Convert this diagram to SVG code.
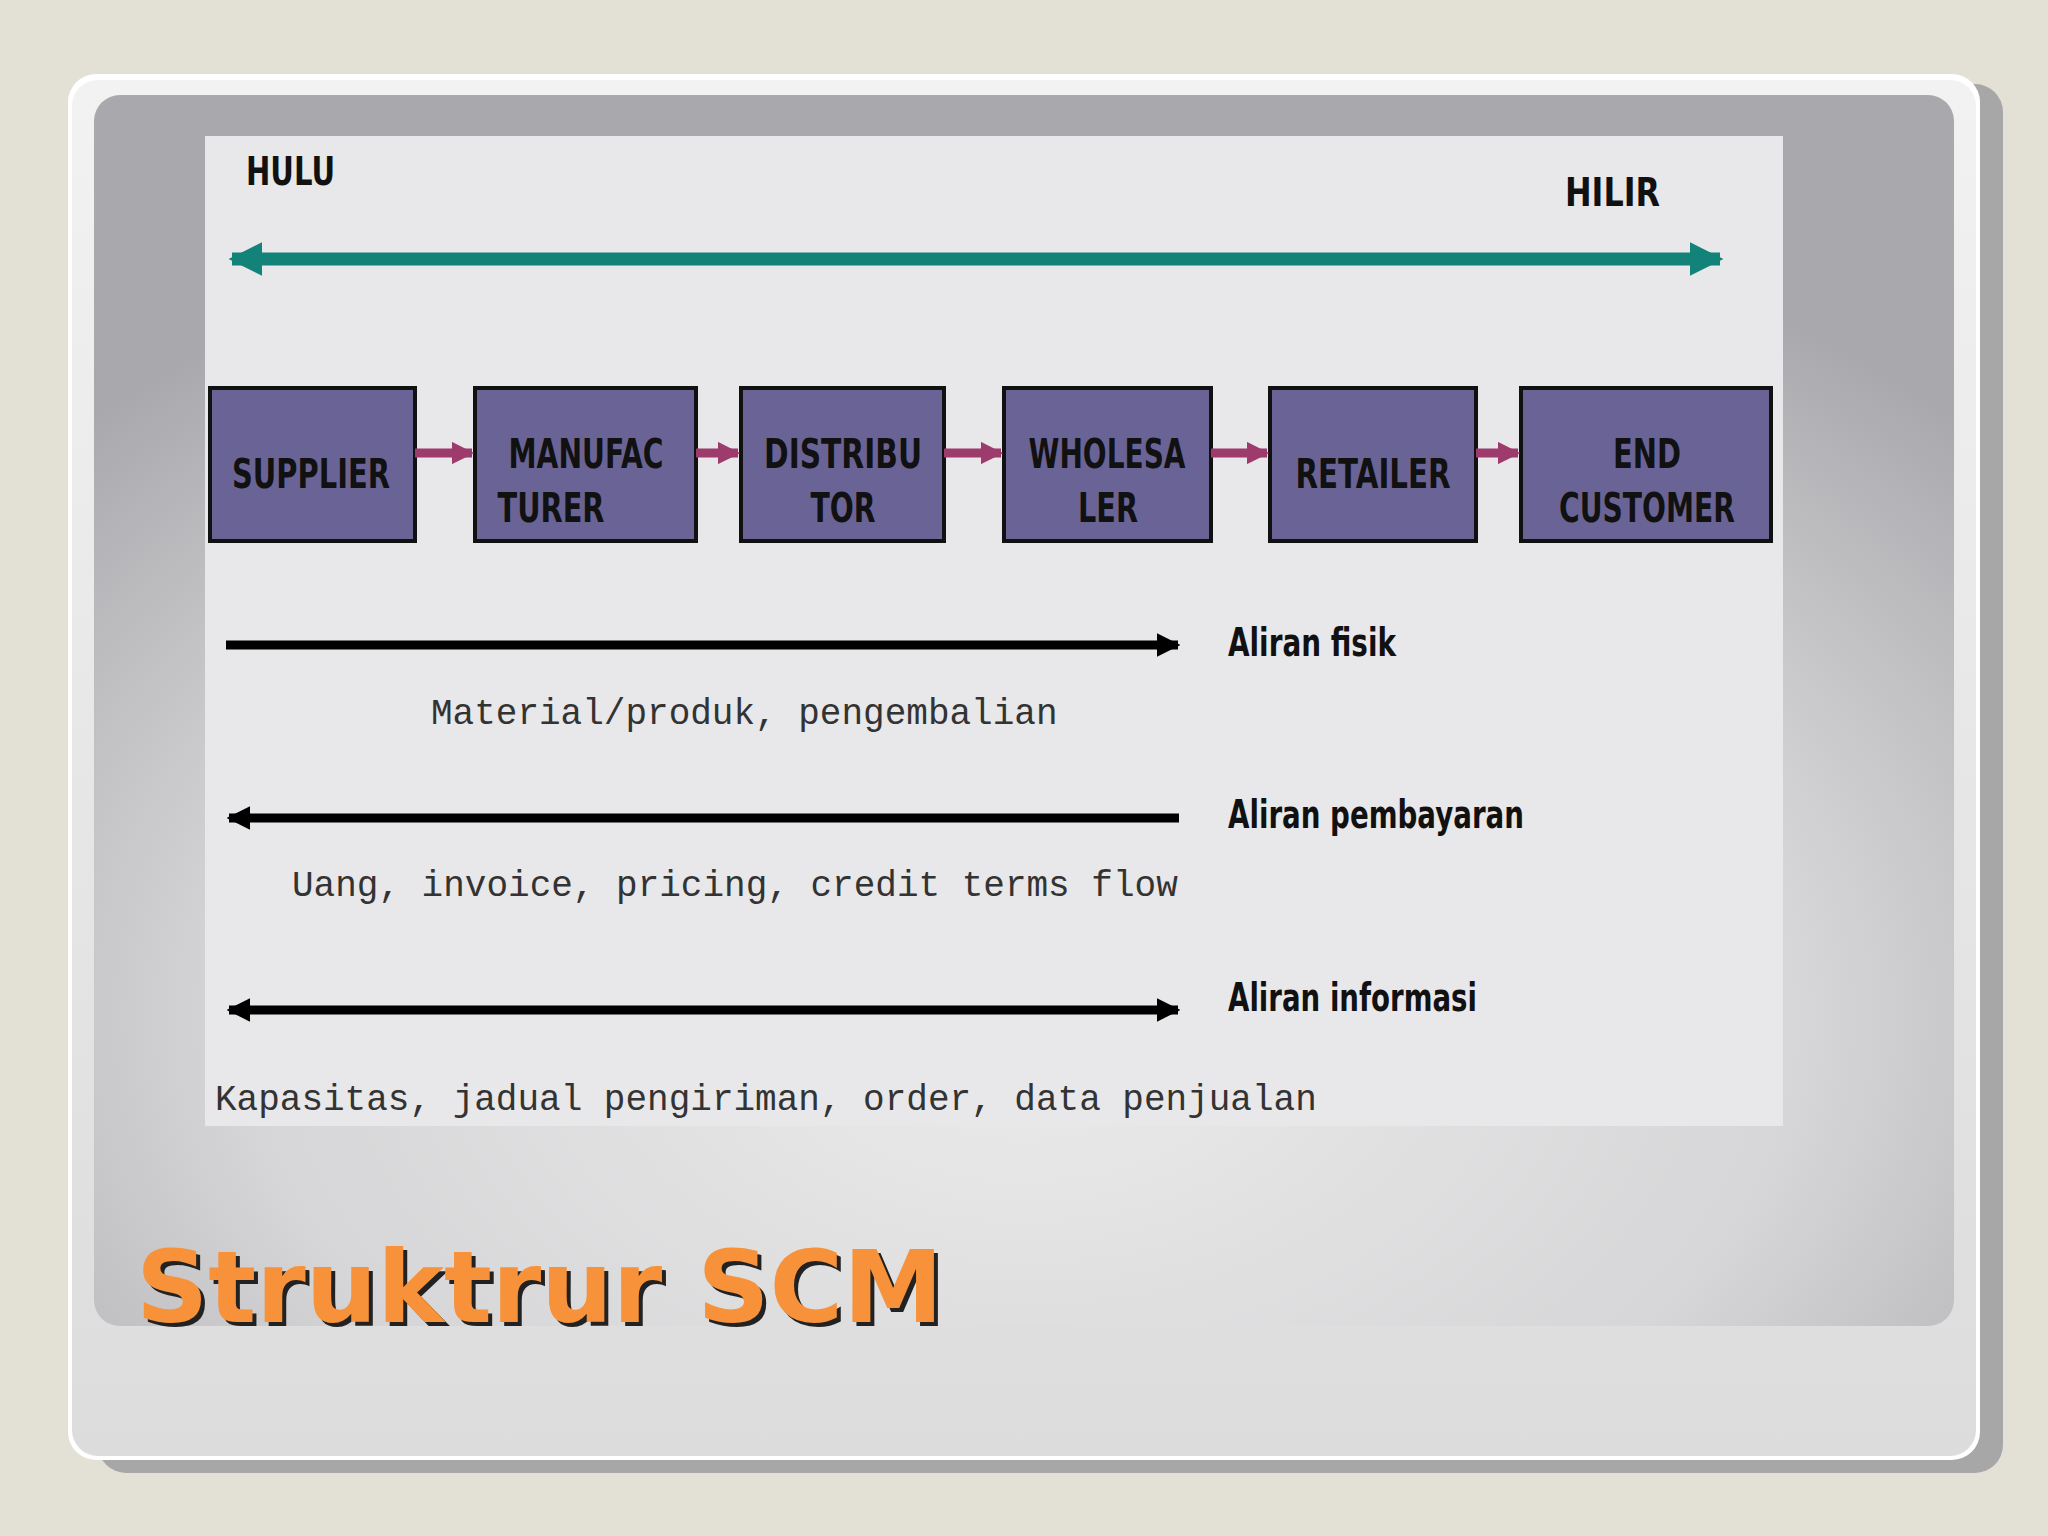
<svg xmlns="http://www.w3.org/2000/svg" width="2048" height="1536" viewBox="0 0 2048 1536">
<defs>
<radialGradient id="pg" cx="0.5" cy="0.75" r="0.7">
<stop offset="0" stop-color="#ececec"/><stop offset="0.6" stop-color="#d6d6d8"/><stop offset="1" stop-color="#a9a8ac"/>
</radialGradient>
<linearGradient id="cg" x1="0" y1="0" x2="0" y2="1">
<stop offset="0" stop-color="#f2f2f2"/><stop offset="1" stop-color="#dcdcdc"/>
</linearGradient>
<marker id="ah" viewBox="0 0 10 10" refX="9" refY="5" markerWidth="2.6" markerHeight="2.6" orient="auto-start-reverse"><path d="M0,0 L10,5 L0,10 z" fill="#000"/></marker>
<marker id="th" viewBox="0 0 10 10" refX="9" refY="5" markerWidth="2.6" markerHeight="3" orient="auto-start-reverse"><path d="M0,0 L10,5 L0,10 z" fill="#13837a"/></marker>
<marker id="ph" viewBox="0 0 10 10" refX="9" refY="5" markerWidth="2.5" markerHeight="2.5" orient="auto"><path d="M0,0 L10,5 L0,10 z" fill="#9c3b6c"/></marker>
<style>
.box{fill:#6a6496;stroke:#111;stroke-width:4}
.bt{font-family:"DejaVu Sans",sans-serif;font-weight:bold;font-size:40px;fill:#111;text-anchor:middle;}
.lb{font-family:"DejaVu Sans",sans-serif;font-weight:bold;font-size:39px;fill:#111}
.mono{font-family:"Liberation Mono",monospace;font-size:36px;fill:#333}
.blk{stroke:#000;stroke-width:9}
.pk{stroke:#9c3b6c;stroke-width:9}
</style>
</defs>
<rect width="2048" height="1536" fill="#e3e0d5"/>
<rect x="98" y="84" width="1905" height="1389" rx="28" fill="#a8a7a7"/>
<rect x="68" y="74" width="1912" height="1386" rx="28" fill="#fff"/>
<rect x="72" y="80" width="1904" height="1376" rx="26" fill="url(#cg)"/>
<rect x="94" y="95" width="1860" height="1231" rx="26" fill="url(#pg)"/>
<rect x="205" y="136" width="1578" height="990" fill="#e8e7e9"/>
<text class="lb" x="246" y="185" textLength="89" lengthAdjust="spacingAndGlyphs">HULU</text>
<text class="lb" x="1565" y="206" textLength="95" lengthAdjust="spacingAndGlyphs">HILIR</text>
<line x1="232" y1="259" x2="1720" y2="259" stroke="#13837a" stroke-width="13" marker-start="url(#th)" marker-end="url(#th)"/>
<g id="supplier"><rect class="box" x="210" y="388" width="205" height="153"/><text class="bt" x="311" y="488" textLength="158" lengthAdjust="spacingAndGlyphs">SUPPLIER</text></g>
<g id="manufacturer"><rect class="box" x="475" y="388" width="221" height="153"/><text class="bt" x="586" y="468" textLength="155" lengthAdjust="spacingAndGlyphs">MANUFAC</text><text class="bt" x="551" y="522" textLength="107" lengthAdjust="spacingAndGlyphs">TURER</text></g>
<g id="distributor"><rect class="box" x="741" y="388" width="203" height="153"/><text class="bt" x="843" y="468" textLength="158" lengthAdjust="spacingAndGlyphs">DISTRIBU</text><text class="bt" x="843" y="522" textLength="65" lengthAdjust="spacingAndGlyphs">TOR</text></g>
<g id="wholesaler"><rect class="box" x="1004" y="388" width="207" height="153"/><text class="bt" x="1107" y="468" textLength="157" lengthAdjust="spacingAndGlyphs">WHOLESA</text><text class="bt" x="1108" y="522" textLength="60" lengthAdjust="spacingAndGlyphs">LER</text></g>
<g id="retailer"><rect class="box" x="1270" y="388" width="206" height="153"/><text class="bt" x="1373" y="488" textLength="155" lengthAdjust="spacingAndGlyphs">RETAILER</text></g>
<g id="endcustomer"><rect class="box" x="1521" y="388" width="250" height="153"/><text class="bt" x="1647" y="468" textLength="68" lengthAdjust="spacingAndGlyphs">END</text><text class="bt" x="1647" y="522" textLength="176" lengthAdjust="spacingAndGlyphs">CUSTOMER</text></g>
<g id="connectors">
<line class="pk" x1="415" y1="453" x2="472" y2="453" marker-end="url(#ph)"/>
<line class="pk" x1="696" y1="453" x2="738" y2="453" marker-end="url(#ph)"/>
<line class="pk" x1="944" y1="453" x2="1001" y2="453" marker-end="url(#ph)"/>
<line class="pk" x1="1211" y1="453" x2="1267" y2="453" marker-end="url(#ph)"/>
<line class="pk" x1="1476" y1="453" x2="1518" y2="453" marker-end="url(#ph)"/>
<line class="blk" x1="226" y1="645" x2="1178" y2="645" marker-end="url(#ah)"/>
<line class="blk" x1="229" y1="818" x2="1179" y2="818" marker-start="url(#ah)"/>
<line class="blk" x1="229" y1="1010" x2="1178" y2="1010" marker-start="url(#ah)" marker-end="url(#ah)"/>
</g>
<text class="lb" x="1228" y="656" textLength="168" lengthAdjust="spacingAndGlyphs">Aliran fisik</text>
<text class="mono" x="431" y="724">Material/produk, pengembalian</text>
<text class="lb" x="1228" y="828" textLength="296" lengthAdjust="spacingAndGlyphs">Aliran pembayaran</text>
<text class="mono" x="292" y="896">Uang, invoice, pricing, credit terms flow</text>
<text class="lb" x="1228" y="1011" textLength="249" lengthAdjust="spacingAndGlyphs">Aliran informasi</text>
<text class="mono" x="215" y="1110">Kapasitas, jadual pengiriman, order, data penjualan</text>
<text x="140" y="1326" font-family="'DejaVu Sans',sans-serif" font-weight="bold" font-size="100" fill="#222" textLength="807" lengthAdjust="spacingAndGlyphs">Struktrur SCM</text>
<text x="136" y="1322" font-family="'DejaVu Sans',sans-serif" font-weight="bold" font-size="100" fill="#f7923a" textLength="807" lengthAdjust="spacingAndGlyphs">Struktrur SCM</text>
</svg>
